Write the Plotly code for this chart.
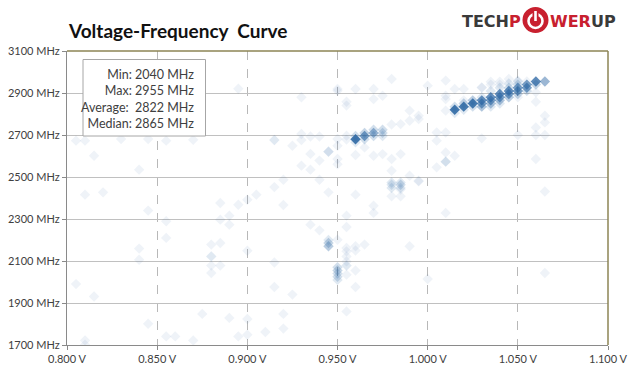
import plotly.graph_objects as go

# ---------------- data ----------------
# each entry: voltage (V), frequency (MHz), number of overlapping samples
volts = [
    # sparse points, upper-left
    0.805, 0.810, 0.815, 0.830, 0.840, 0.845, 0.855, 0.870, 0.895, 0.915, 0.925, 0.930, 0.930, 0.930, 0.930,
    0.935, 0.935, 0.935, 0.940, 0.940, 0.945, 0.945, 0.950, 0.950, 0.950, 0.950, 0.950,
    # sparse points, middle upper
    0.980, 0.960, 0.970, 0.975, 0.970, 0.955, 0.955, 0.950, 1.000, 1.010, 1.010, 1.010, 1.010, 1.015, 1.020,
    1.030, 1.035, 1.040, 1.045, 1.050, 1.060, 1.060, 1.065, 1.065, 1.060, 1.065, 1.060, 1.050, 1.060, 1.030,
    0.990, 0.995, 1.005, 1.010, 1.005, 1.015, 1.010, 1.010, 1.005, 0.955, 0.955, 0.960, 0.965, 0.970, 0.975,
    0.980, 0.985, 0.980, 0.980, 0.985, 0.990, 0.995,
    # sparse points, middle lower
    0.980, 0.980, 0.985, 0.985, 0.985, 0.980, 0.985, 0.995, 0.960, 0.970, 0.970, 0.955, 0.955,
    0.945, 0.945, 0.945, 0.960, 0.965, 0.960, 0.955, 0.955, 0.955, 0.955, 0.955,
    0.950, 0.950, 0.950, 0.950, 0.950, 0.960, 0.960, 0.990, 1.000, 1.010, 1.065, 1.065, 0.955, 0.955,
    # sparse points, lower-left
    0.810, 0.820, 0.845, 0.855, 0.855, 0.840, 0.840, 0.805, 0.815, 0.810, 0.810, 0.845, 0.855, 0.860, 0.870,
    0.875, 0.880, 0.885, 0.880, 0.880, 0.885, 0.880, 0.885, 0.885, 0.890, 0.890, 0.895, 0.900, 0.905, 0.915,
    0.920, 0.920, 0.900, 0.915, 0.915, 0.925, 0.935, 0.940, 0.945, 0.940, 0.890, 0.900, 0.900, 0.895, 0.910,
    0.920, 0.920, 0.950,
    # second cluster (0.960 - 0.995 V)
    0.960, 0.960, 0.960, 0.965, 0.965, 0.965, 0.970, 0.970, 0.970, 0.975, 0.975, 0.975,
    0.980, 0.985, 0.990, 0.995,
    # main band (1.015 - 1.065 V)
    1.015, 1.015, 1.015,
    1.020, 1.020, 1.020, 1.020,
    1.025, 1.025, 1.025,
    1.030, 1.030, 1.030, 1.030, 1.030,
    1.035, 1.035, 1.035, 1.035, 1.035, 1.035,
    1.040, 1.040, 1.040, 1.040, 1.040, 1.040,
    1.045, 1.045, 1.045, 1.045, 1.045,
    1.050, 1.050, 1.050, 1.050, 1.050, 1.050,
    1.055, 1.055, 1.055, 1.055,
    1.060, 1.060,
    1.065,
]
mhz = [
    2673, 2673, 2601, 2681, 2535, 2681, 2673, 2677, 2920, 2676, 2649, 2880, 2676, 2705, 2554,
    2693, 2610, 2535, 2693, 2578, 2620, 2622, 2919, 2681, 2649, 2561, 2586,
    2967, 2919, 2919, 2887, 2871, 2858, 2840, 2911, 2935, 2959, 2887, 2871, 2816, 2919, 2919,
    2927, 2954, 2954, 2967, 2959, 2903, 2858, 2792, 2760, 2736, 2700, 2700, 2700, 2586, 2684,
    2816, 2792, 2712, 2712, 2673, 2601, 2617, 2573, 2546, 2697, 2678, 2605, 2641, 2601, 2609,
    2586, 2609, 2530, 2474, 2474, 2506, 2482,
    2463, 2448, 2463, 2448, 2440, 2408, 2408, 2479, 2416, 2363, 2329, 2316, 2262,
    2186, 2170, 2200, 2170, 2178, 2150, 2162, 2146, 2122, 2098, 2078,
    2070, 2055, 2040, 2025, 2010, 2055, 1976, 2170, 2014, 2329, 2431, 2043, 1860, 2035,
    2416, 2427, 2340, 2289, 2210, 2159, 2106, 1990, 1931, 1722, 1701, 1801, 1741, 1741, 1722,
    1848, 2178, 2186, 2122, 2078, 2078, 2043, 2376, 2297, 2316, 2273, 2368, 2392, 2416, 2452,
    2487, 2367, 2149, 2093, 1976, 1940, 2273, 2246, 2427, 2487, 1829, 1824, 1749, 1741, 1762,
    1848, 1778, 2201,
    2680, 2695, 2665, 2695, 2710, 2680, 2710, 2725, 2695, 2725, 2710, 2695,
    2750, 2752, 2768, 2776,
    2820, 2835, 2805,
    2835, 2850, 2820, 2865,
    2850, 2865, 2835,
    2850, 2865, 2835, 2880, 2925,
    2865, 2880, 2850, 2835, 2910, 2940,
    2880, 2895, 2865, 2850, 2925, 2940,
    2895, 2910, 2880, 2925, 2945,
    2910, 2925, 2895, 2940, 2955, 2880,
    2925, 2940, 2910, 2955,
    2955, 2940,
    2955,
]
counts = [
    1, 1, 1, 1, 1, 1, 1, 1, 1, 2, 1, 1, 1, 1, 1,
    1, 1, 1, 1, 1, 2, 1, 1, 1, 1, 1, 1,
    1, 1, 1, 1, 1, 1, 1, 1, 1, 1, 1, 1, 1, 1, 1,
    1, 1, 1, 1, 1, 1, 1, 1, 1, 1, 1, 1, 1, 1, 1,
    1, 1, 1, 1, 1, 1, 1, 3, 1, 1, 1, 1, 1, 1, 1,
    1, 1, 1, 2, 2, 1, 1,
    2, 2, 3, 2, 1, 1, 1, 1, 1, 1, 1, 1, 1,
    4, 5, 2, 1, 1, 1, 1, 1, 1, 1, 2,
    3, 4, 3, 3, 2, 1, 1, 1, 1, 1, 1, 1, 1, 1,
    1, 1, 1, 1, 1, 1, 1, 1, 1, 1, 1, 1, 1, 1, 1,
    1, 1, 1, 2, 1, 1, 1, 1, 1, 1, 1, 1, 1, 1, 1,
    1, 1, 1, 1, 1, 1, 1, 1, 1, 1, 1, 1, 1, 1, 1,
    1, 1, 1,
    26, 3, 2, 12, 4, 3, 8, 3, 3, 3, 3, 2,
    1, 1, 1, 1,
    26, 3, 2,
    24, 4, 2, 1,
    24, 5, 3,
    12, 16, 6, 2, 1,
    12, 16, 6, 2, 2, 1,
    12, 16, 6, 2, 2, 1,
    12, 16, 5, 3, 2,
    12, 12, 4, 3, 2, 1,
    12, 12, 3, 1,
    18, 4,
    8,
]

stats_labels = ["Min:", "Max:", "Average:\u00a0", "Median:"]
stats_values = [2040, 2955, 2822, 2865]

x_tickvals = [0.80, 0.85, 0.90, 0.95, 1.00, 1.05, 1.10]
x_ticktext = ["0.800 V", "0.850 V", "0.900 V", "0.950 V", "1.000 V", "1.050 V", "1.100 V"]
y_tickvals = [1700, 1900, 2100, 2300, 2500, 2700, 2900, 3100]
y_ticktext = [f"{v} MHz" for v in y_tickvals]

# ---------------- layout geometry ----------------
W, H = 634, 378
ML, MR, MT, MB = 67, 26, 51, 33
PW, PH = W - ML - MR, H - MT - MB


def px(x):
    return (x - ML) / PW


def py(y):
    return (H - MB - y) / PH


ALPHA = 0.075
opac = [1 - (1 - ALPHA) ** c for c in counts]

fig = go.Figure()
fig.add_trace(go.Scatter(
    x=volts, y=mhz, mode="markers",
    marker=dict(symbol="diamond", size=8, color="rgb(40,100,162)",
                opacity=opac, line=dict(width=0)),
    hoverinfo="x+y", showlegend=False,
))

FONT = "Lato"
tick_font = dict(family=FONT, size=11, color="#404040")

fig.update_layout(
    width=W, height=H,
    margin=dict(l=ML, r=MR, t=MT, b=MB, autoexpand=False),
    paper_bgcolor="white", plot_bgcolor="white",
    xaxis=dict(range=[0.8, 1.1], tickvals=x_tickvals, ticktext=x_ticktext,
               showgrid=True, gridcolor="#b8b8b8", griddash="dash", gridwidth=1,
               showline=True, linecolor="#8a8a8a", linewidth=1,
               ticks="outside", ticklen=4, tickcolor="#8a8a8a",
               tickfont=tick_font, zeroline=False, fixedrange=True),
    yaxis=dict(range=[1700, 3100], tickvals=y_tickvals, ticktext=y_ticktext,
               showgrid=True, gridcolor="#c0c0c0", gridwidth=1,
               showline=True, linecolor="#8a8a8a", linewidth=1,
               ticks="outside", ticklen=4, tickcolor="#8a8a8a",
               tickfont=tick_font, zeroline=False, fixedrange=True),
)

shapes = []
# olive top and right frame
shapes.append(dict(type="line", xref="paper", yref="paper", x0=0, x1=1, y0=1, y1=1,
                   line=dict(color="#8c8455", width=1.5)))
shapes.append(dict(type="line", xref="paper", yref="paper", x0=1, x1=1, y0=0, y1=1,
                   line=dict(color="#8c8455", width=1.5)))
# stats box
shapes.append(dict(type="rect", xref="paper", yref="paper",
                   x0=px(83), x1=px(205.5), y0=py(136), y1=py(59.5),
                   line=dict(color="#a6a6a6", width=1), fillcolor="white"))

# logo power icon
cx, cy, r = 535.5, 20, 13
shapes.append(dict(type="circle", xref="paper", yref="paper",
                   x0=px(cx - r), x1=px(cx + r), y0=py(cy + r), y1=py(cy - r),
                   fillcolor="#c8202f", line=dict(width=0)))
ri = 7
shapes.append(dict(type="circle", xref="paper", yref="paper",
                   x0=px(cx - ri), x1=px(cx + ri), y0=py(cy + ri + 1), y1=py(cy - ri + 1),
                   fillcolor="rgba(0,0,0,0)", line=dict(color="white", width=2.6)))
shapes.append(dict(type="line", xref="paper", yref="paper",
                   x0=px(cx), x1=px(cx), y0=py(cy - 8), y1=py(cy - 4),
                   line=dict(color="#c8202f", width=6)))
shapes.append(dict(type="line", xref="paper", yref="paper",
                   x0=px(cx), x1=px(cx), y0=py(cy - 9), y1=py(cy + 1),
                   line=dict(color="white", width=2.6)))

annotations = []
annotations.append(dict(
    text="<b>Voltage-Frequency\u00a0 Curve</b>", xref="paper", yref="paper",
    x=px(66), y=py(30), xanchor="left", yanchor="middle", showarrow=False,
    font=dict(family=FONT, size=19, color="#111111")))

stats_text = "<br>".join(f"{l} {v}\u00a0MHz" for l, v in zip(stats_labels, stats_values))
annotations.append(dict(
    text=stats_text, xref="paper", yref="paper",
    x=px(196), y=py(98.5), xanchor="right", yanchor="middle", align="right",
    showarrow=False, font=dict(family=FONT, size=12.5, color="#404040")))

LOGO_FONT = dict(family="DejaVu Sans", size=16)
annotations.append(dict(
    text="<b><span style='color:#3a3a3a'>TECH</span><span style='color:#c8202f'>P</span></b>",
    xref="paper", yref="paper", x=px(cx - r + 0.5), y=py(21), xanchor="right", yanchor="middle",
    showarrow=False, font=LOGO_FONT))
annotations.append(dict(
    text="<b><span style='color:#c8202f'>WER</span><span style='color:#3a3a3a'>UP</span></b>",
    xref="paper", yref="paper", x=px(cx + r - 0.5), y=py(21), xanchor="left", yanchor="middle",
    showarrow=False, font=LOGO_FONT))

fig.update_layout(shapes=shapes, annotations=annotations)

fig.write_html(
    "out.html",
    config={"displayModeBar": False},
    post_script="document.body.style.margin='0';document.body.style.padding='0';"
                "document.body.style.overflow='hidden';",
)
